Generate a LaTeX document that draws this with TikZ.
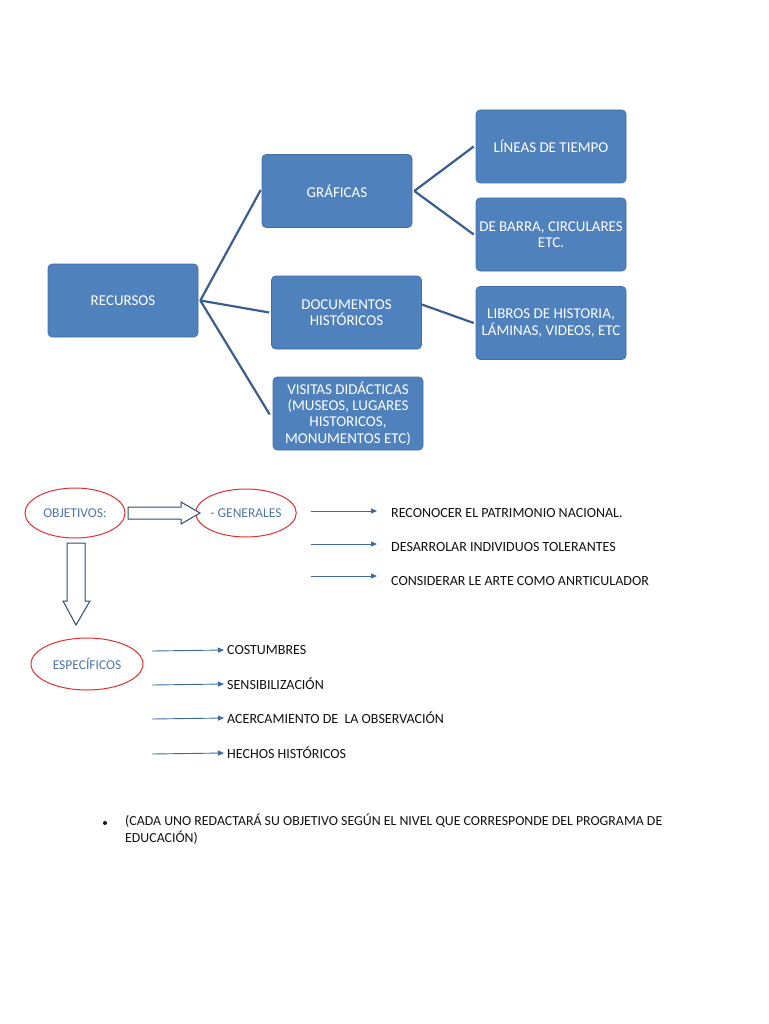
\documentclass[tikz,border=0pt]{standalone}
\usepackage{fontspec}
\setmainfont{Carlito}
\usetikzlibrary{arrows.meta,shapes.geometric}
\definecolor{boxblue}{HTML}{4F81BD}
\definecolor{linkblue}{HTML}{3A5F8F}
\definecolor{arrblue}{HTML}{3D6AA3}
\definecolor{ovalred}{HTML}{E03030}
\definecolor{ovaltext}{HTML}{4F74A8}
\definecolor{txt}{HTML}{111111}
\tikzset{
  box/.style={draw=boxblue!85!black, line width=0.6pt, fill=boxblue, rounded corners=4pt, minimum width=150pt, minimum height=73pt, align=center, text=white, font=\fontsize{15}{16.3}\selectfont, inner sep=2pt},
  link/.style={draw=linkblue, line width=2.2pt},
  oval/.style={ellipse, draw=ovalred, line width=1pt, text=ovaltext, font=\fontsize{13.5}{15}\selectfont, inner sep=0pt},
  thin arrow/.style={draw=arrblue, line width=0.9pt, -{Triangle[length=6pt,width=5pt]}},
  lbl/.style={anchor=west, text=txt, font=\fontsize{14}{16}\selectfont, inner sep=0pt},
  blockarrow/.style={draw=linkblue!80!black, line width=1pt, fill=white, line join=miter}
}
\begin{document}
\begin{tikzpicture}[x=1pt,y=-1pt]
\useasboundingbox (0,0) rectangle (768,1024);
% boxes
\node[box] (rec) at (123,300.5) {RECURSOS};
\node[box] (gra) at (337,191) {GRÁFICAS};
\node[box] (doc) at (346.5,312.5) {DOCUMENTOS\\HISTÓRICOS};
\node[box] (vis) at (348,413.5) {VISITAS DIDÁCTICAS\\(MUSEOS, LUGARES\\HISTORICOS,\\MONUMENTOS ETC)};
\node[box] (lin) at (551,146.5) {LÍNEAS DE TIEMPO};
\node[box] (bar) at (551,234.5) {DE BARRA, CIRCULARES\\ETC.};
\node[box] (lib) at (551,323) {LIBROS DE HISTORIA,\\LÁMINAS, VIDEOS, ETC};
% connectors
\coordinate (rp) at ([xshift=2pt]rec.east);
\coordinate (gp) at ([xshift=2pt]gra.east);
\draw[link] (rp) -- ([xshift=-1pt,yshift=1pt]gra.west);
\draw[link] (rp) -- ([xshift=-2pt,yshift=0pt]doc.west);
\draw[link] (rp) -- ([xshift=-3pt,yshift=-1pt]vis.west);
\draw[link] (gp) -- ([xshift=-2pt]lin.west);
\draw[link] (gp) -- ([xshift=-2pt]bar.west);
\draw[link] ([yshift=8pt]doc.east) -- ([xshift=-2pt]lib.west);
% objetivos
\node[oval, minimum width=100pt, minimum height=50pt] (obj) at (75,513) {OBJETIVOS:};
\node[oval, minimum width=96pt, minimum height=48pt] (gen) at (246,513) {- GENERALES};
\node[oval, minimum width=112pt, minimum height=52pt] (esp) at (87,664) {ESPECÍFICOS};
% block arrow right
\draw[blockarrow] (128,507) -- (181,507) -- (181,502) -- (200,513) -- (181,524) -- (181,519) -- (128,519) -- cycle;
% block arrow down
\draw[blockarrow] (67,543) -- (85,543) -- (85,601) -- (90,601) -- (76,625) -- (63,601) -- (67,601) -- cycle;
% generales arrows
\coordinate (g1) at (311,511); \coordinate (g2) at (311,544); \coordinate (g3) at (311,576);
\node[lbl] (t1) at (391,513) {RECONOCER EL PATRIMONIO NACIONAL.};
\node[lbl] (t2) at (391,547) {DESARROLAR INDIVIDUOS TOLERANTES};
\node[lbl] (t3) at (391,581) {CONSIDERAR LE ARTE COMO ANRTICULADOR};
\draw[thin arrow] (g1) -- (377,511);
\draw[thin arrow] (g2) -- (377,544);
\draw[thin arrow] (g3) -- (377,576);
% especificos arrows
\node[lbl] (e1) at (227,650) {COSTUMBRES};
\node[lbl] (e2) at (227,684) {SENSIBILIZACIÓN};
\node[lbl] (e3) at (227,718) {ACERCAMIENTO DE\ \ LA OBSERVACIÓN};
\node[lbl] (e4) at (227,753) {HECHOS HISTÓRICOS};
\coordinate (s1) at (152,651); \coordinate (s2) at (152,685); \coordinate (s3) at (152,719); \coordinate (s4) at (152,754);
\draw[thin arrow] (s1) -- ([xshift=-3pt]e1.west);
\draw[thin arrow] (s2) -- ([xshift=-3pt]e2.west);
\draw[thin arrow] (s3) -- ([xshift=-3pt]e3.west);
\draw[thin arrow] (s4) -- ([xshift=-3pt]e4.west);
% bullet note
\fill[txt] (105,823) circle (2pt);
\node[lbl, anchor=north west, align=left, font=\fontsize{13.85}{17}\selectfont] (note) at (125,814) {(CADA UNO REDACTARÁ SU OBJETIVO SEGÚN EL NIVEL QUE CORRESPONDE DEL PROGRAMA DE\\EDUCACIÓN)};
\end{tikzpicture}
\end{document}
